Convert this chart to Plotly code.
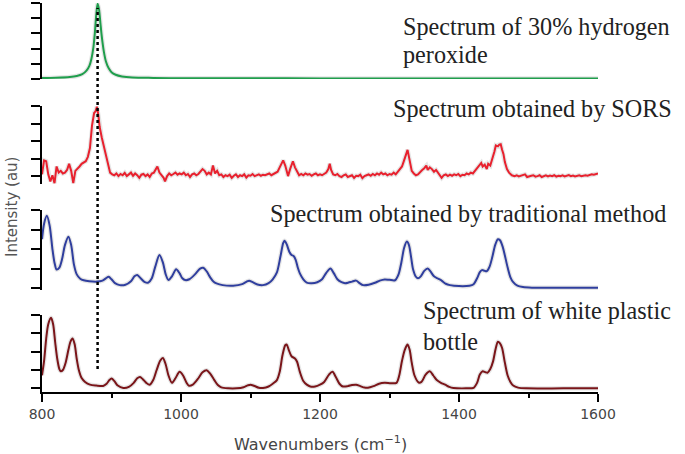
import plotly.graph_objects as go

# ---------------- data ----------------
# Spectrum of 30% hydrogen peroxide (green), arbitrary units 0..5
h2o2_wn = [800, 820, 840, 850, 858, 864, 868, 871, 874, 876, 878, 880, 882, 884, 886,
           889, 892, 896, 900, 906, 915, 930, 960, 1000, 1100, 1200, 1300, 1400, 1500, 1600]
h2o2_int = [0.06, 0.08, 0.13, 0.2, 0.32, 0.55, 0.85, 1.3, 2.1, 3.0, 4.2, 4.95, 4.6, 3.7, 2.8,
            1.8, 1.15, 0.7, 0.45, 0.28, 0.17, 0.1, 0.07, 0.05, 0.05, 0.04, 0.04, 0.04, 0.04, 0.04]

# Spectrum obtained by SORS (red), arbitrary units 0..4
sors_wn = [800, 803, 806, 809, 812, 815, 818, 821, 824, 827, 830, 833, 836, 839, 842, 845, 848,
           851, 854, 857, 860, 863, 866, 869, 872, 875, 877, 879, 881, 883, 886, 889, 892, 895,
           898, 901, 904, 907, 910, 913, 916, 919, 922, 925, 928, 931, 934, 937, 940, 943, 946,
           949, 952, 955, 958, 961, 964, 966, 969, 972, 975, 977, 980, 983, 986, 989, 992, 995,
           998, 1001, 1004, 1007, 1010, 1013, 1016, 1019, 1022, 1025, 1028, 1031, 1034, 1037,
           1040, 1043, 1046, 1049, 1052, 1055, 1058, 1061, 1064, 1067, 1070, 1073, 1076, 1079,
           1082, 1085, 1088, 1091, 1094, 1097, 1100, 1103, 1106, 1109, 1112, 1115, 1118, 1121,
           1124, 1127, 1130, 1133, 1136, 1139, 1142, 1145, 1147, 1150, 1152, 1154, 1157, 1160,
           1161, 1164, 1167, 1170, 1173, 1176, 1179, 1182, 1185, 1188, 1191, 1194, 1197, 1200,
           1203, 1206, 1209, 1212, 1214, 1216, 1219, 1222, 1225, 1228, 1231, 1234, 1237, 1240,
           1243, 1246, 1249, 1252, 1255, 1258, 1261, 1264, 1267, 1270, 1273, 1276, 1279, 1282,
           1285, 1288, 1291, 1294, 1297, 1300, 1303, 1306, 1309, 1312, 1315, 1318, 1321, 1324,
           1326, 1328, 1330, 1332, 1335, 1338, 1341, 1344, 1347, 1350, 1353, 1355, 1358, 1361,
           1364, 1367, 1370, 1373, 1375, 1378, 1381, 1384, 1387, 1390, 1393, 1396, 1399, 1402,
           1405, 1408, 1411, 1414, 1417, 1420, 1423, 1426, 1429, 1432, 1434, 1437, 1440, 1442,
           1445, 1448, 1451, 1453, 1456, 1458, 1460, 1462, 1464, 1466, 1469, 1472, 1476, 1480,
           1483, 1486, 1489, 1492, 1495, 1498, 1501, 1504, 1507, 1510, 1513, 1516, 1519, 1522,
           1525, 1528, 1531, 1534, 1537, 1540, 1543, 1546, 1549, 1552, 1555, 1558, 1561, 1564,
           1567, 1570, 1573, 1576, 1579, 1582, 1585, 1588, 1591, 1594, 1597, 1600]
sors_int = [0.1, 0.9, 0.85, 0.1, -0.3, 0.05, -0.4, 0.55, 0.2, 0.3, 0.15, 0.2, 0.35, 0.7, 0.3,
            -0.4, 0.3, 0.4, 0.55, 0.7, 0.8, 0.85, 1.1, 1.6, 2.9, 3.6, 3.7, 3.96, 3.5, 2.8, 2.2,
            1.7, 1.1, 0.6, 0.2, 0.1, 0.05, 0.15, 0.0, 0.12, 0.05, 0.18, 0.0, 0.1, 0.2, 0.02,
            0.15, 0.05, -0.1, 0.08, 0.12, 0.0, 0.1, -0.05, 0.15, 0.2, 0.4, 0.55, 0.2, 0.05, -0.1,
            -0.3, 0.0, 0.15, 0.05, 0.12, 0.2, 0.08, 0.15, 0.1, 0.2, 0.05, 0.12, -0.05, 0.1, 0.15,
            0.05, 0.12, 0.25, 0.4, 0.3, 0.1, 0.2, 0.1, 0.6, 0.15, 0.3, 0.05, 0.1, -0.05, 0.05,
            0.0, 0.08, -0.1, 0.02, 0.1, -0.05, 0.05, 0.0, 0.1, -0.08, 0.05, 0.02, 0.12, 0.0,
            0.05, 0.1, 0.02, 0.08, 0.05, 0.1, 0.15, 0.05, 0.12, 0.2, 0.25, 0.5, 0.75, 0.9, 0.6,
            0.2, 0.0, 0.4, 0.7, 0.85, 0.5, 0.3, 0.05, 0.12, 0.05, 0.15, 0.08, 0.12, 0.02, 0.1,
            0.15, 0.05, 0.1, 0.05, 0.15, 0.2, 0.4, 0.7, 0.35, 0.1, 0.05, 0.12, 0.0, -0.05, 0.05,
            0.1, -0.05, 0.0, 0.05, -0.1, 0.02, 0.0, 0.08, -0.12, 0.0, 0.05, 0.1, 0.02, 0.12,
            0.05, 0.15, 0.08, 0.2, 0.1, 0.15, 0.05, 0.12, 0.08, 0.2, 0.1, 0.25, 0.4, 0.55, 0.9,
            1.35, 1.5, 1.1, 0.6, 0.3, 0.15, 0.05, 0.1, 0.25, 0.35, 0.45, 0.6, 0.35, 0.5, 0.4,
            0.25, 0.35, 0.2, 0.05, -0.1, 0.05, 0.1, 0.0, 0.08, 0.02, 0.1, 0.05, 0.12, 0.0, 0.08,
            0.05, 0.15, 0.1, 0.2, 0.15, 0.3, 0.4, 0.55, 0.75, 0.55, 0.65, 0.4, 0.7, 0.6, 0.95,
            1.4, 1.75, 1.7, 1.8, 1.82, 1.5, 1.25, 0.8, 0.4, 0.2, 0.05, 0.0, 0.05, -0.02, 0.03,
            0.05, 0.1, -0.05, 0.0, 0.02, 0.05, -0.03, 0.0, 0.05, -0.05, 0.0, 0.04, -0.02, 0.03,
            0.0, 0.05, -0.03, 0.02, 0.0, 0.04, -0.02, 0.02, 0.06, 0.0, 0.03, -0.02, 0.02, 0.05,
            0.0, 0.03, 0.05, 0.02, 0.06, 0.1, 0.08, 0.12, 0.15]

# Spectrum obtained by traditional method (blue), arbitrary units 0..4
trad_wn = [800, 803, 807, 811, 815, 818, 821, 825, 829, 833, 838, 842, 846, 850, 855, 860, 868,
           879, 887, 892, 896, 900, 905, 912, 920, 928, 933, 937, 942, 948, 953, 958, 963, 969,
           974, 978, 982, 987, 993, 998, 1002, 1006, 1012, 1020, 1027, 1032, 1037, 1042, 1047,
           1051, 1060, 1075, 1088, 1094, 1098, 1103, 1110, 1118, 1126, 1132, 1138, 1143, 1147,
           1149, 1152, 1156, 1159, 1162, 1165, 1168, 1171, 1176, 1181, 1188, 1196, 1203, 1209,
           1215, 1220, 1225, 1231, 1236, 1241, 1246, 1252, 1257, 1262, 1270, 1279, 1286, 1293,
           1300, 1308, 1313, 1317, 1321, 1325, 1328, 1331, 1334, 1338, 1341, 1345, 1350, 1355,
           1359, 1364, 1370, 1375, 1381, 1387, 1400, 1415, 1421, 1426, 1430, 1433, 1437, 1440,
           1444, 1448, 1452, 1456, 1459, 1463, 1466, 1470, 1474, 1478, 1484, 1492, 1505, 1521,
           1550, 1600]
trad_int = [2.5, 3.3, 3.7, 3.2, 2.0, 1.3, 0.95, 1.05, 1.5, 2.2, 2.63, 2.2, 1.2, 0.7, 0.48, 0.4,
            0.35, 0.33, 0.38, 0.5, 0.58, 0.45, 0.25, 0.15, 0.17, 0.35, 0.6, 0.67, 0.5, 0.3, 0.28,
            0.5, 1.1, 1.69, 1.3, 0.7, 0.41, 0.6, 0.96, 0.75, 0.5, 0.41, 0.45, 0.7, 0.98, 1.04,
            0.85, 0.55, 0.32, 0.24, 0.15, 0.12, 0.2, 0.32, 0.38, 0.3, 0.18, 0.15, 0.25, 0.45,
            0.8, 1.6, 2.3, 2.43, 2.25, 1.85, 1.7, 1.64, 1.45, 1.05, 0.75, 0.45, 0.28, 0.25, 0.3,
            0.45, 0.78, 1.0, 0.75, 0.45, 0.3, 0.25, 0.28, 0.33, 0.38, 0.25, 0.15, 0.17, 0.27,
            0.38, 0.44, 0.42, 0.4, 0.7, 1.3, 2.05, 2.38, 2.2, 1.6, 0.95, 0.58, 0.5, 0.6, 0.88,
            1.0, 0.85, 0.6, 0.48, 0.38, 0.22, 0.15, 0.1, 0.12, 0.2, 0.5, 0.82, 0.92, 0.88, 0.87,
            1.1, 1.6, 2.2, 2.5, 2.45, 2.1, 1.67, 1.05, 0.55, 0.3, 0.12, 0.05, 0.02, 0.02, 0.01,
            0.01]

# Spectrum of white plastic bottle (dark red), arbitrary units 0..4
bottle_wn = [800, 803, 806, 809, 813, 816, 819, 822, 825, 827, 830, 834, 838, 841, 844, 847,
             850, 853, 857, 862, 869, 878, 888, 893, 897, 900, 904, 909, 917, 925, 932, 937,
             941, 945, 950, 955, 960, 965, 970, 974, 978, 982, 987, 992, 998, 1003, 1008, 1011,
             1017, 1025, 1031, 1037, 1042, 1048, 1053, 1058, 1068, 1080, 1090, 1096, 1100, 1105,
             1112, 1118, 1126, 1132, 1138, 1142, 1146, 1150, 1152, 1155, 1159, 1164, 1167, 1171,
             1176, 1181, 1186, 1193, 1200, 1206, 1213, 1218, 1223, 1228, 1233, 1240, 1246, 1252,
             1258, 1264, 1269, 1277, 1285, 1293, 1302, 1310, 1314, 1318, 1322, 1326, 1329, 1332,
             1336, 1342, 1346, 1352, 1358, 1363, 1368, 1374, 1380, 1386, 1392, 1410, 1421, 1426,
             1430, 1434, 1438, 1441, 1445, 1449, 1453, 1456, 1459, 1462, 1466, 1470, 1474, 1478,
             1485, 1497, 1550, 1600]
bottle_int = [0.71, 1.5, 2.7, 3.5, 3.85, 3.5, 2.5, 1.6, 1.05, 0.93, 1.0, 1.4, 2.1, 2.55, 2.72,
              2.4, 1.6, 1.0, 0.56, 0.35, 0.2, 0.15, 0.13, 0.25, 0.45, 0.53, 0.4, 0.15, 0.02,
              0.08, 0.3, 0.55, 0.62, 0.5, 0.3, 0.2, 0.45, 1.0, 1.5, 1.66, 1.3, 0.7, 0.3, 0.55,
              0.9, 0.7, 0.3, 0.15, 0.2, 0.55, 0.88, 0.99, 0.8, 0.45, 0.18, 0.05, 0.0, 0.0, 0.06,
              0.16, 0.2, 0.14, 0.03, 0.02, 0.1, 0.25, 0.45, 0.9, 1.8, 2.35, 2.39, 2.1, 1.75,
              1.63, 1.45, 0.9, 0.4, 0.2, 0.1, 0.1, 0.2, 0.35, 0.75, 0.9, 0.6, 0.25, 0.1, 0.12,
              0.18, 0.2, 0.12, 0.04, 0.03, 0.12, 0.25, 0.3, 0.28, 0.3, 0.7, 1.5, 2.1, 2.39, 2.1,
              1.4, 0.7, 0.32, 0.35, 0.75, 0.93, 0.7, 0.45, 0.3, 0.2, 0.08, 0.02, 0.0, 0.03, 0.3,
              0.75, 0.93, 0.88, 0.85, 1.05, 1.47, 2.2, 2.54, 2.45, 2.2, 1.4, 0.7, 0.35, 0.15,
              0.04, 0.0, 0.0, 0.0]

x_ticks = [800, 1000, 1200, 1400, 1600]
x_minor_ticks = [900, 1100, 1300, 1500]
h2o2_band = 880  # wavenumber of the dotted reference line

labels = ["Spectrum of 30% hydrogen", "peroxide", "Spectrum obtained by SORS",
          "Spectrum obtained by traditional method", "Spectrum of white plastic", "bottle"]

# ---------------- figure ----------------
W, H = 685, 454
ML, MR, MT, MB = 42, 87, 3, 62
PW, PH = W - ML - MR, H - MT - MB


def py(y):  # pixel y -> paper
    return (H - MB - y) / PH


def px(x):  # pixel x -> paper
    return (x - ML) / PW


series = [
    (h2o2_wn, h2o2_int, "#1f9e4c", "y4", "spline"),
    (sors_wn, sors_int, "#e8212e", "y3", "linear"),
    (trad_wn, trad_int, "#2f3e9e", "y2", "spline"),
    (bottle_wn, bottle_int, "#7a1519", "y", "spline"),
]

fig = go.Figure()
for xs, ys, col, yax, shape in series:
    fig.add_trace(go.Scatter(x=xs, y=ys, mode="lines", xaxis="x", yaxis=yax,
                             line=dict(color="rgba(0,0,0,0.10)", width=4.5, shape=shape,
                                       smoothing=0.8),
                             hoverinfo="skip", showlegend=False))
    fig.add_trace(go.Scatter(x=xs, y=ys, mode="lines", xaxis="x", yaxis=yax,
                             line=dict(color=col, width=2, shape=shape, smoothing=0.8),
                             showlegend=False))

ycommon = dict(anchor="x", showline=True, linecolor="black", linewidth=2,
               ticks="outside", ticklen=9, tickwidth=2, tickcolor="black",
               showticklabels=False, showgrid=False, zeroline=False)

fig.update_layout(
    width=W, height=H, autosize=False,
    margin=dict(l=ML, r=MR, t=MT, b=MB),
    paper_bgcolor="white", plot_bgcolor="white",
    showlegend=False,
    xaxis=dict(domain=[0, 1], anchor="y", range=[800, 1600],
               showline=True, linecolor="black", linewidth=1.5,
               ticks="outside", ticklen=8, tickwidth=1.5, tickcolor="black",
               tickvals=x_ticks, ticktext=[str(v) for v in x_ticks],
               minor=dict(tickvals=x_minor_ticks, ticks="outside", ticklen=4,
                          tickwidth=1.5, tickcolor="black"),
               tickfont=dict(family="DejaVu Sans", size=14, color="#454545"),
               showgrid=False, zeroline=False),
    yaxis=dict(domain=[0, py(315)], range=[-0.2, 4], tickvals=[0, 1, 2, 3, 4], **ycommon),
    yaxis2=dict(domain=[py(290), py(210)], range=[-0.1, 4], tickvals=[0, 1, 2, 3, 4], **ycommon),
    yaxis3=dict(domain=[py(184), py(106)], range=[-0.45, 4], tickvals=[0, 1, 2, 3, 4], **ycommon),
    yaxis4=dict(domain=[py(79), 1.0], range=[0, 5], tickvals=[0, 1, 2, 3, 4, 5], **ycommon),
)

# dotted reference line at the H2O2 band
fig.add_shape(type="line", xref="x", yref="paper", x0=h2o2_band, x1=h2o2_band,
              y0=py(369), y1=py(8), layer="above",
              line=dict(color="black", width=2.5, dash="dot"))

serif = dict(family="Liberation Serif", size=24.2, color="#222222")
label_pos = [(401, 26), (401, 55), (391, 108), (268, 213), (421, 310), (421, 341)]
for txt, (lx, ly) in zip(labels, label_pos):
    fig.add_annotation(text=txt, xref="paper", yref="paper", x=px(lx), y=py(ly),
                       xanchor="left", yanchor="middle", showarrow=False, font=serif)

fig.add_annotation(text="Wavenumbers (cm<sup>−1</sup>)", xref="paper", yref="paper",
                   x=0.5, y=py(443), xanchor="center", yanchor="middle", showarrow=False,
                   font=dict(family="DejaVu Sans", size=16, color="#454545"))
fig.add_annotation(text="Intensity (au)", xref="paper", yref="paper",
                   x=px(12), y=py(207), xanchor="center", yanchor="middle", textangle=-90,
                   showarrow=False, font=dict(family="DejaVu Sans", size=15, color="#555555"))

fig.write_html("out.html",
               config={"displayModeBar": False},
               post_script="document.body.style.margin='0';"
                           "document.body.style.overflow='hidden';")
